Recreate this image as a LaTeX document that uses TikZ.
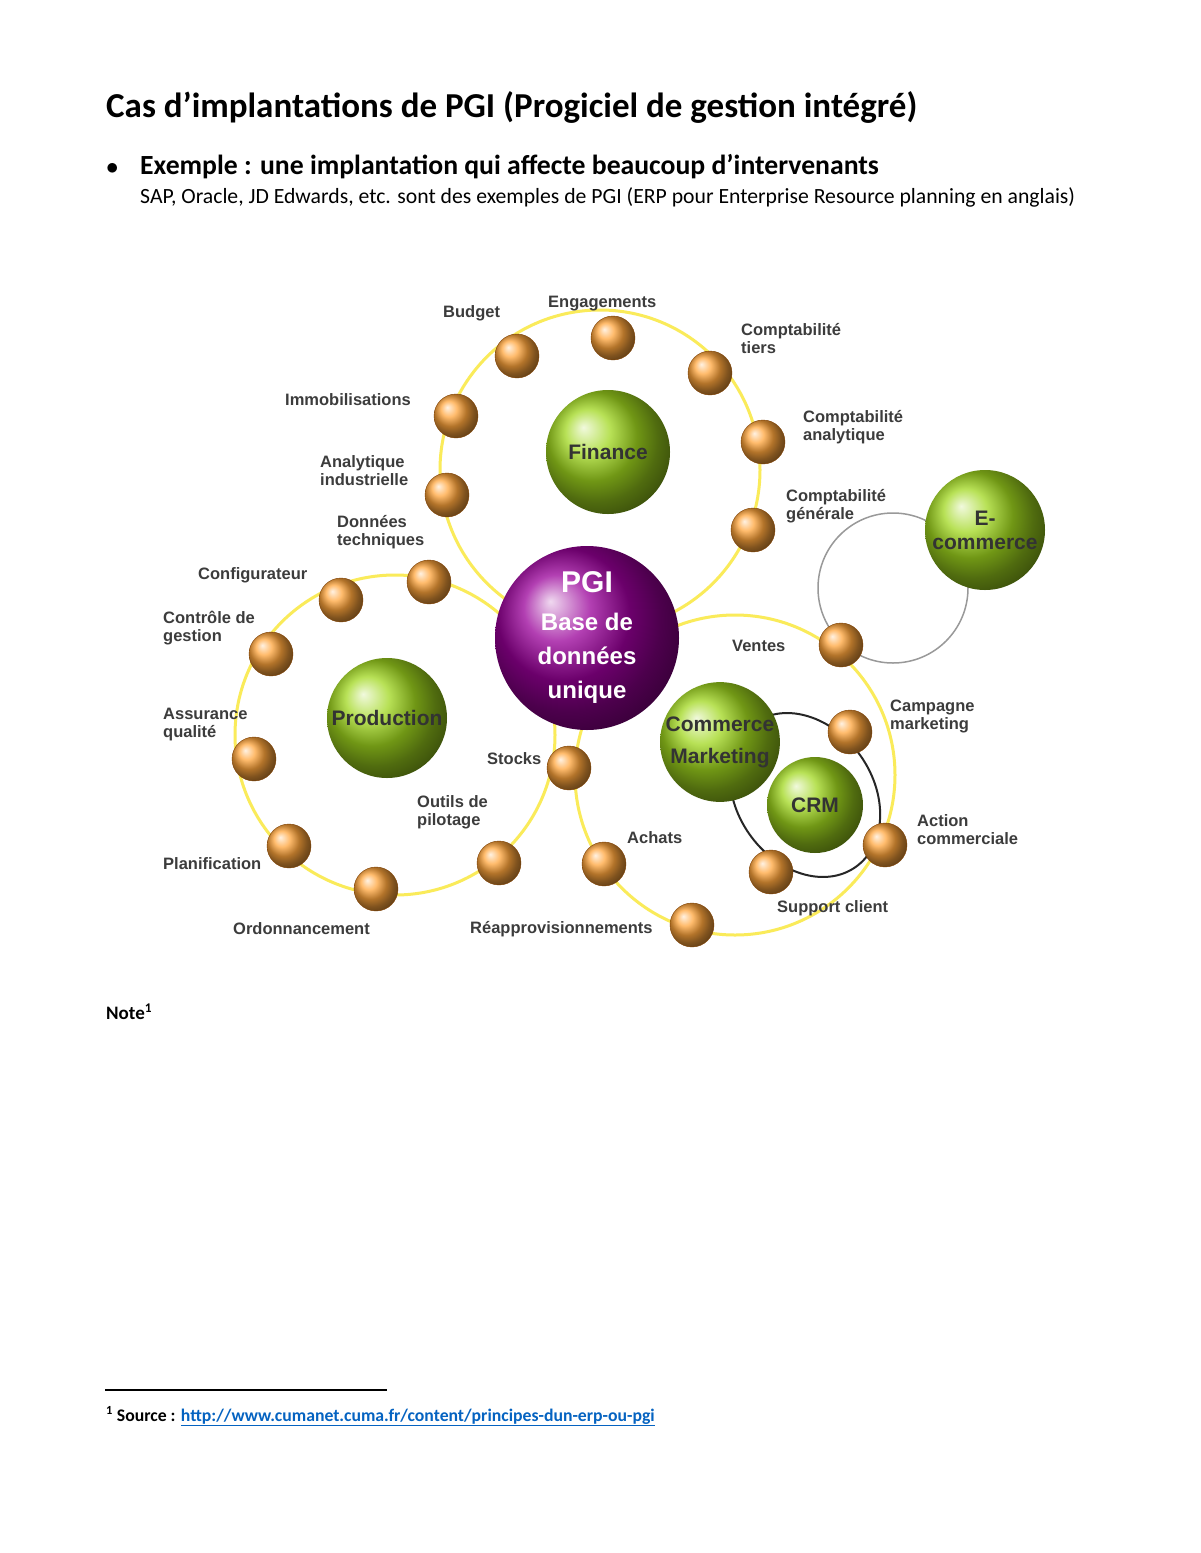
\documentclass[tikz,border=0pt]{standalone}
\usepackage{fontspec}
\setmainfont{Carlito}
\newfontfamily\arialf{Liberation Sans}
\usetikzlibrary{positioning}
\definecolor{ringyellow}{RGB}{250,235,90}
\definecolor{labelgray}{RGB}{60,60,60}
\definecolor{linkblue}{RGB}{5,99,193}
\definecolor{limegreen}{RGB}{160,215,30}
\definecolor{ballorange}{RGB}{255,165,60}
\tikzset{
  ring/.style={draw=ringyellow,line width=3pt},
  ball/.style={circle,minimum size=44pt,inner sep=0pt,shading=ball,ball color=ballorange,draw=orange!50!black,line width=0.4pt},
  bigball/.style={circle,inner sep=0pt,shading=ball,ball color=limegreen,text=black!80,font=\arialf\bfseries\fontsize{21}{24}\selectfont,align=center},
  lbl/.style={anchor=west,inner sep=0pt,text=labelgray,font=\arialf\bfseries\fontsize{16.5}{18}\selectfont,align=left},
}
\begin{document}
\begin{tikzpicture}[x=1pt,y=-1pt]
	\useasboundingbox[fill=white] (0,0) rectangle (1200,1553);

	% header text
	\node[anchor=base west,inner sep=0pt,font=\bfseries\fontsize{35}{40}\selectfont] (title) at (106,117) {Cas d’implantations de PGI (Progiciel de gestion intégré)};
	\node[anchor=base west,inner sep=0pt,font=\fontsize{24}{28}\selectfont] (bullet) at (106,174) {$\bullet$};
	\node[anchor=base west,inner sep=0pt,font=\bfseries\fontsize{27.7}{32}\selectfont] (exemple) at (140,174) {Exemple : une implantation qui affecte beaucoup d’intervenants};
	\node[anchor=base west,inner sep=0pt,font=\fontsize{21.7}{25}\selectfont] (sap) at (140,203) {SAP, Oracle, JD Edwards, etc. sont des exemples de PGI (ERP pour Enterprise Resource planning en anglais)};

	% rings
	\draw[ring] (600,470) circle (160);
	\draw[ring] (395,735) circle (160);
	\draw[ring] (735,775) circle (160);
	\draw[draw=gray!80,line width=1.5pt] (893,588) circle (75);
	\draw[draw=black!85,line width=2pt,rotate around={35:(805,795)}] (805,795) ellipse (68 and 88);

	% big balls
	\node[bigball,minimum size=124pt] (finance) at (608,452) {Finance};
	\node[bigball,minimum size=120pt] (production) at (387,718) {Production};
	\node[bigball,minimum size=116pt] (commerce) at (720,742) {Commerce\\[8pt]Marketing};
	\node[bigball,minimum size=96pt] (crm) at (815,805) {CRM};
	\node[bigball,minimum size=120pt] (ecommerce) at (985,530) {E-\\commerce};
	\node[circle,minimum size=184pt,inner sep=0pt,shading=ball,ball color=violet!80!magenta,text=white,align=center,font=\arialf\bfseries\fontsize{24}{34}\selectfont] (pgi) at (587,638) {{\fontsize{30}{34}\selectfont PGI}\\[4pt]Base de\\données\\unique};

	% small balls
	\node[ball] (budget) at (517,356) {};
	\node[ball] (engag) at (613,338) {};
	\node[ball] (ctiers) at (710,373) {};
	\node[ball] (canal) at (763,442) {};
	\node[ball] (cgen) at (753,530) {};
	\node[ball] (immo) at (456,416) {};
	\node[ball] (anind) at (447,495) {};
	\node[ball] (dontech) at (429,582) {};
	\node[ball] (config) at (341,600) {};
	\node[ball] (controle) at (271,654) {};
	\node[ball] (assur) at (254,759) {};
	\node[ball] (planif) at (289,846) {};
	\node[ball] (ordo) at (376,889) {};
	\node[ball] (outils) at (499,863) {};
	\node[ball] (stocks) at (569,768) {};
	\node[ball] (ventes) at (841,645) {};
	\node[ball] (campagne) at (850,732) {};
	\node[ball] (action) at (885,845) {};
	\node[ball] (support) at (771,872) {};
	\node[ball] (reappro) at (692,925) {};
	\node[ball] (achats) at (604,864) {};

	% labels
	\node[lbl] at (443,313) {Budget};
	\node[lbl] at (548,304) {Engagements};
	\node[lbl] at (741,339) {Comptabilité\\tiers};
	\node[lbl] at (803,427) {Comptabilité\\analytique};
	\node[lbl] at (786,506) {Comptabilité\\générale};
	\node[lbl] at (285,400) {Immobilisations};
	\node[lbl] at (320,471) {Analytique\\industrielle};
	\node[lbl] at (337,532) {Données\\techniques};
	\node[lbl] at (198,575) {Configurateur};
	\node[lbl] at (163,628) {Contrôle de\\gestion};
	\node[lbl] at (163,725) {Assurance\\qualité};
	\node[lbl] at (163,864) {Planification};
	\node[lbl] at (233,929) {Ordonnancement};
	\node[lbl] at (417,812) {Outils de\\pilotage};
	\node[lbl] at (487,759) {Stocks};
	\node[lbl] at (732,646) {Ventes};
	\node[lbl] at (890,716) {Campagne\\marketing};
	\node[lbl] at (917,830) {Action\\commerciale};
	\node[lbl] at (777,908) {Support client};
	\node[lbl] at (470,929) {Réapprovisionnements};
	\node[lbl] at (627,838) {Achats};

	% note and footnote
	\node[anchor=base west,inner sep=0pt,font=\bfseries\fontsize{19}{22}\selectfont] (note) at (106,1019) {Note\textsuperscript{1}};
	\draw[line width=2.5pt] (105,1390) -- (387,1390);
	\node[anchor=base west,inner sep=0pt,font=\bfseries\fontsize{17.7}{20}\selectfont] (source) at (106,1421) {\textsuperscript{1} Source : \textcolor{linkblue}{\underline{http://www.cumanet.cuma.fr/content/principes-dun-erp-ou-pgi}}};
\end{tikzpicture}
\end{document}
